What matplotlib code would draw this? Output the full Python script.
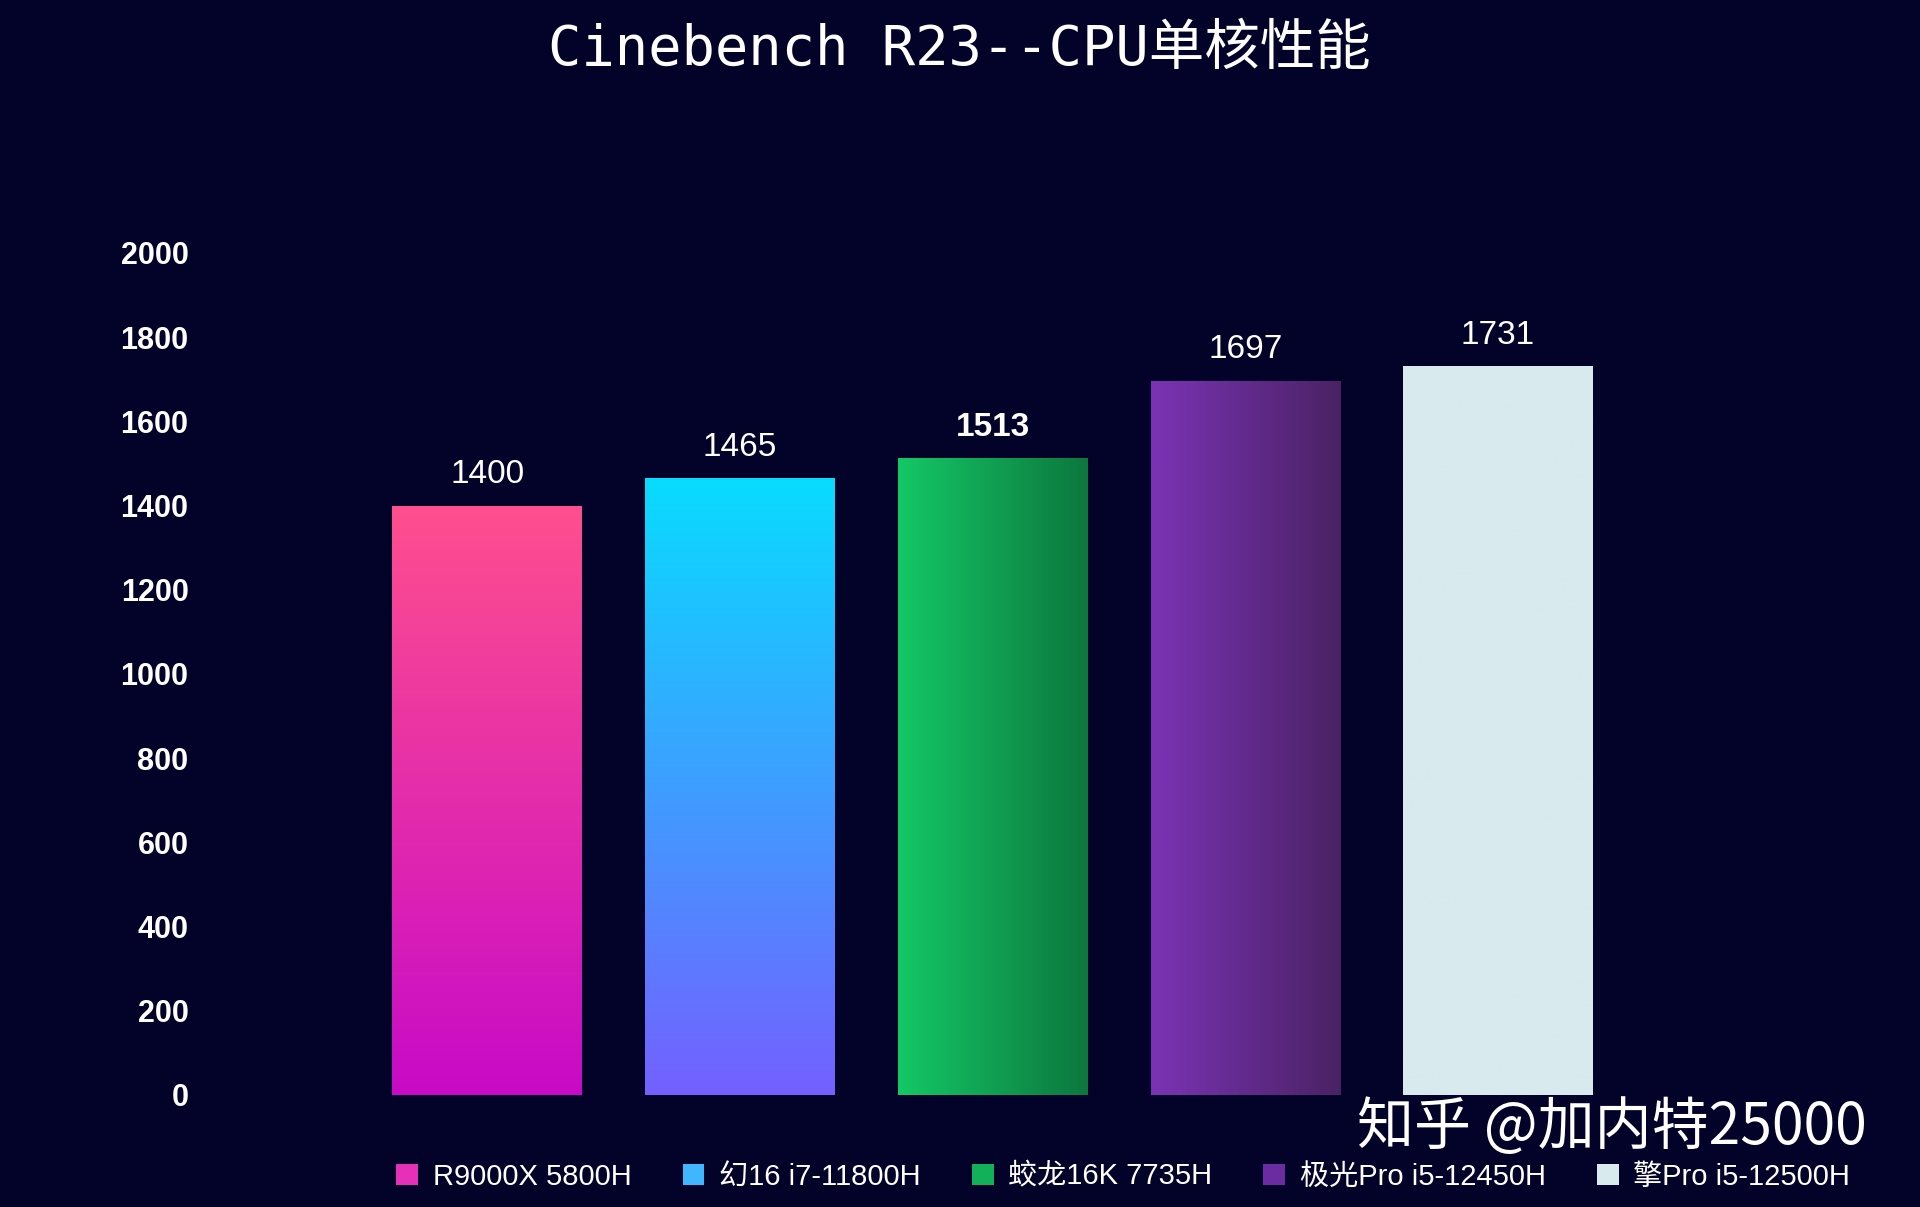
import numpy as np
import matplotlib.pyplot as plt
from matplotlib.patches import Patch
from matplotlib.colors import LinearSegmentedColormap
from matplotlib import font_manager

# data
cpus = ['R9000X 5800H', '幻16 i7-11800H', '蛟龙16K 7735H', '极光Pro i5-12450H', '擎Pro i5-12500H']
scores = [1400, 1465, 1513, 1697, 1731]
# gradient colours per bar: (start, end, direction)
grad_start = ['#ff4f8e', '#08dcff', '#14c866', '#7b33b5', '#d8eaee']
grad_end = ['#c80ac8', '#7460ff', '#0c773e', '#4a2264', '#d8eaee']
grad_dir = ['v', 'v', 'h', 'h', 'v']
legend_colors = ['#e630b8', '#3fb6ff', '#12b058', '#6a2ca0', '#d8eaee']

bg = '#03032a'
cjk = ['Liberation Sans', 'Noto Sans CJK SC']

names = set(f.name for f in font_manager.fontManager.ttflist)
narrow = 'Liberation Sans Narrow' if 'Liberation Sans Narrow' in names else 'Liberation Sans'
lab_size = 27 if narrow == 'Liberation Sans Narrow' else 24

fig = plt.figure(figsize=(19.2, 12.07), dpi=100, facecolor=bg)
ax = fig.add_axes([0.104, 0.0928, 0.742, 0.6976])
ax.set_facecolor(bg)

x = np.arange(len(scores))
bars = ax.bar(x, scores, width=0.75, color='none', edgecolor='none', zorder=2)

for i, b in enumerate(bars):
    cmap = LinearSegmentedColormap.from_list('g%d' % i, [grad_start[i], grad_end[i]])
    if grad_dir[i] == 'v':
        grad = np.linspace(0, 1, 256).reshape(-1, 1)  # top -> bottom
    else:
        grad = np.linspace(0, 1, 256).reshape(1, -1)  # left -> right
    x0, y0 = b.get_x(), b.get_y()
    w, h = b.get_width(), b.get_height()
    im = ax.imshow(grad, cmap=cmap, aspect='auto', extent=[x0, x0 + w, y0, y0 + h],
                   origin='upper', zorder=2)
    im.set_clip_path(b)

for i, v in enumerate(scores):
    ax.annotate(str(v), (x[i], v), xytext=(0, 11), textcoords='offset points',
                ha='center', va='bottom', color='white', fontsize=lab_size,
                family=narrow, fontweight='bold' if v == 1513 else 'normal')

ax.set_xlim(-1.138, 4.5)
ax.set_ylim(0, 2000)
ax.set_yticks(range(0, 2001, 200))
ax.set_xticks([])
ax.tick_params(axis='y', length=0, pad=8, labelcolor='white', labelsize=22)
for lab in ax.get_yticklabels():
    lab.set_fontweight('bold')
    lab.set_family('Liberation Sans')
for s in ax.spines.values():
    s.set_visible(False)

fig.text(0.4995, 0.959, 'Cinebench R23--CPU单核性能', ha='center', va='center',
         color='white', fontsize=40,
         family=['DejaVu Sans Mono', 'Noto Sans CJK SC'])

handles = [Patch(facecolor=c, edgecolor='none') for c in legend_colors]
leg = fig.legend(handles, cpus, loc='center', bbox_to_anchor=(0.585, 0.025), ncol=5,
                 frameon=False, handlelength=0.75, handleheight=0.75, handletextpad=0.5,
                 columnspacing=1.75, prop={'family': cjk, 'size': 21})
for t in leg.get_texts():
    t.set_color('white')

fig.text(0.9724, 0.066, '知乎 @加内特25000', ha='right', va='center', color='white',
         fontsize=41, family=['Noto Sans CJK SC', 'DejaVu Sans'])

fig.savefig('out.png', dpi=100, facecolor=bg)
